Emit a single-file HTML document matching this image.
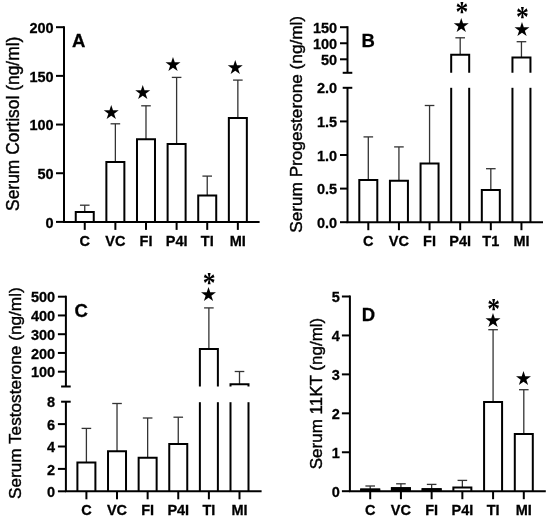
<!DOCTYPE html>
<html><head><meta charset="utf-8"><title>Serum hormone levels</title>
<style>html,body{margin:0;padding:0;background:#fff;}svg{display:block;}
.b{font-family:'Liberation Sans', Arial, Helvetica, sans-serif;font-weight:bold;stroke:#000;stroke-width:0.28px;}
.t{font-family:'Liberation Sans', Arial, Helvetica, sans-serif;stroke:#000;stroke-width:0.4px;}
</style>
</head><body>
<svg width="550" height="521" viewBox="0 0 550 521">
<rect width="550" height="521" fill="#fff"/>
<line x1="64.00" y1="26.20" x2="64.00" y2="221.90" stroke="#000" stroke-width="2.0"/>
<line x1="56.00" y1="27.20" x2="64.00" y2="27.20" stroke="#000" stroke-width="2.0"/>
<text class="b" x="53.60" y="32.89" font-size="14.5" text-anchor="end">200</text>
<line x1="56.00" y1="75.88" x2="64.00" y2="75.88" stroke="#000" stroke-width="2.0"/>
<text class="b" x="53.60" y="81.57" font-size="14.5" text-anchor="end">150</text>
<line x1="56.00" y1="124.55" x2="64.00" y2="124.55" stroke="#000" stroke-width="2.0"/>
<text class="b" x="53.60" y="130.24" font-size="14.5" text-anchor="end">100</text>
<line x1="56.00" y1="173.22" x2="64.00" y2="173.22" stroke="#000" stroke-width="2.0"/>
<text class="b" x="53.60" y="178.92" font-size="14.5" text-anchor="end">50</text>
<line x1="56.00" y1="221.90" x2="64.00" y2="221.90" stroke="#000" stroke-width="2.0"/>
<text class="b" x="53.60" y="227.59" font-size="14.5" text-anchor="end">0</text>
<line x1="63.00" y1="221.90" x2="259.60" y2="221.90" stroke="#000" stroke-width="2.0"/>
<line x1="84.75" y1="221.90" x2="84.75" y2="229.90" stroke="#000" stroke-width="2.0"/>
<text class="b" x="84.75" y="245.50" font-size="14.5" text-anchor="middle">C</text>
<line x1="115.37" y1="221.90" x2="115.37" y2="229.90" stroke="#000" stroke-width="2.0"/>
<text class="b" x="115.37" y="245.50" font-size="14.5" text-anchor="middle">VC</text>
<line x1="145.99" y1="221.90" x2="145.99" y2="229.90" stroke="#000" stroke-width="2.0"/>
<text class="b" x="145.99" y="245.50" font-size="14.5" text-anchor="middle">FI</text>
<line x1="176.61" y1="221.90" x2="176.61" y2="229.90" stroke="#000" stroke-width="2.0"/>
<text class="b" x="176.61" y="245.50" font-size="14.5" text-anchor="middle">P4I</text>
<line x1="207.23" y1="221.90" x2="207.23" y2="229.90" stroke="#000" stroke-width="2.0"/>
<text class="b" x="207.23" y="245.50" font-size="14.5" text-anchor="middle">TI</text>
<line x1="237.85" y1="221.90" x2="237.85" y2="229.90" stroke="#000" stroke-width="2.0"/>
<text class="b" x="237.85" y="245.50" font-size="14.5" text-anchor="middle">MI</text>
<line x1="84.75" y1="212.00" x2="84.75" y2="205.20" stroke="#333" stroke-width="1.3"/>
<line x1="79.95" y1="205.20" x2="89.55" y2="205.20" stroke="#333" stroke-width="1.3"/>
<polyline points="75.75,221.90 75.75,212.00 93.75,212.00 93.75,221.90" fill="none" stroke="#000" stroke-width="2.0" stroke-linejoin="miter"/>
<line x1="115.37" y1="162.00" x2="115.37" y2="123.80" stroke="#333" stroke-width="1.3"/>
<line x1="110.57" y1="123.80" x2="120.17" y2="123.80" stroke="#333" stroke-width="1.3"/>
<polyline points="106.37,221.90 106.37,162.00 124.37,162.00 124.37,221.90" fill="none" stroke="#000" stroke-width="2.0" stroke-linejoin="miter"/>
<line x1="145.99" y1="139.30" x2="145.99" y2="105.80" stroke="#333" stroke-width="1.3"/>
<line x1="141.19" y1="105.80" x2="150.79" y2="105.80" stroke="#333" stroke-width="1.3"/>
<polyline points="136.99,221.90 136.99,139.30 154.99,139.30 154.99,221.90" fill="none" stroke="#000" stroke-width="2.0" stroke-linejoin="miter"/>
<line x1="176.61" y1="144.00" x2="176.61" y2="77.40" stroke="#333" stroke-width="1.3"/>
<line x1="171.81" y1="77.40" x2="181.41" y2="77.40" stroke="#333" stroke-width="1.3"/>
<polyline points="167.61,221.90 167.61,144.00 185.61,144.00 185.61,221.90" fill="none" stroke="#000" stroke-width="2.0" stroke-linejoin="miter"/>
<line x1="207.23" y1="195.50" x2="207.23" y2="176.10" stroke="#333" stroke-width="1.3"/>
<line x1="202.43" y1="176.10" x2="212.03" y2="176.10" stroke="#333" stroke-width="1.3"/>
<polyline points="198.23,221.90 198.23,195.50 216.23,195.50 216.23,221.90" fill="none" stroke="#000" stroke-width="2.0" stroke-linejoin="miter"/>
<line x1="237.85" y1="118.10" x2="237.85" y2="80.10" stroke="#333" stroke-width="1.3"/>
<line x1="233.05" y1="80.10" x2="242.65" y2="80.10" stroke="#333" stroke-width="1.3"/>
<polyline points="228.85,221.90 228.85,118.10 246.85,118.10 246.85,221.90" fill="none" stroke="#000" stroke-width="2.0" stroke-linejoin="miter"/>
<text x="111.15" y="119.18" font-size="19.5" font-family="'DejaVu Sans', sans-serif" text-anchor="middle">&#9733;</text>
<text x="142.80" y="99.03" font-size="19.5" font-family="'DejaVu Sans', sans-serif" text-anchor="middle">&#9733;</text>
<text x="173.05" y="70.83" font-size="19.5" font-family="'DejaVu Sans', sans-serif" text-anchor="middle">&#9733;</text>
<text x="235.20" y="73.93" font-size="19.5" font-family="'DejaVu Sans', sans-serif" text-anchor="middle">&#9733;</text>
<text class="b" x="71.90" y="47.00" font-size="18.5">A</text>
<text class="t" transform="translate(18.90,123.80) rotate(-90)" font-size="17.45" text-anchor="middle">Serum Cortisol (ng/ml)</text>
<line x1="347.50" y1="26.20" x2="347.50" y2="72.80" stroke="#000" stroke-width="2.0"/>
<line x1="340.00" y1="27.20" x2="347.50" y2="27.20" stroke="#000" stroke-width="2.0"/>
<text class="b" x="337.20" y="32.89" font-size="14.5" text-anchor="end">150</text>
<line x1="340.00" y1="43.25" x2="347.50" y2="43.25" stroke="#000" stroke-width="2.0"/>
<text class="b" x="337.20" y="48.94" font-size="14.5" text-anchor="end">100</text>
<line x1="340.00" y1="59.30" x2="347.50" y2="59.30" stroke="#000" stroke-width="2.0"/>
<text class="b" x="337.20" y="64.99" font-size="14.5" text-anchor="end">50</text>
<line x1="342.70" y1="72.80" x2="352.30" y2="72.80" stroke="#000" stroke-width="2.0"/>
<line x1="342.70" y1="87.80" x2="352.30" y2="87.80" stroke="#000" stroke-width="2.0"/>
<line x1="347.50" y1="87.80" x2="347.50" y2="222.20" stroke="#000" stroke-width="2.0"/>
<line x1="340.00" y1="121.40" x2="347.50" y2="121.40" stroke="#000" stroke-width="2.0"/>
<text class="b" x="337.20" y="127.09" font-size="14.5" text-anchor="end">1.5</text>
<line x1="340.00" y1="155.00" x2="347.50" y2="155.00" stroke="#000" stroke-width="2.0"/>
<text class="b" x="337.20" y="160.69" font-size="14.5" text-anchor="end">1.0</text>
<line x1="340.00" y1="188.60" x2="347.50" y2="188.60" stroke="#000" stroke-width="2.0"/>
<text class="b" x="337.20" y="194.29" font-size="14.5" text-anchor="end">0.5</text>
<line x1="340.00" y1="222.20" x2="347.50" y2="222.20" stroke="#000" stroke-width="2.0"/>
<text class="b" x="337.20" y="227.89" font-size="14.5" text-anchor="end">0.0</text>
<text class="b" x="337.20" y="93.49" font-size="14.5" text-anchor="end">2.0</text>
<line x1="346.50" y1="222.20" x2="543.00" y2="222.20" stroke="#000" stroke-width="2.0"/>
<line x1="368.30" y1="222.20" x2="368.30" y2="230.20" stroke="#000" stroke-width="2.0"/>
<text class="b" x="368.30" y="245.80" font-size="14.5" text-anchor="middle">C</text>
<line x1="398.93" y1="222.20" x2="398.93" y2="230.20" stroke="#000" stroke-width="2.0"/>
<text class="b" x="398.93" y="245.80" font-size="14.5" text-anchor="middle">VC</text>
<line x1="429.56" y1="222.20" x2="429.56" y2="230.20" stroke="#000" stroke-width="2.0"/>
<text class="b" x="429.56" y="245.80" font-size="14.5" text-anchor="middle">FI</text>
<line x1="460.19" y1="222.20" x2="460.19" y2="230.20" stroke="#000" stroke-width="2.0"/>
<text class="b" x="460.19" y="245.80" font-size="14.5" text-anchor="middle">P4I</text>
<line x1="490.82" y1="222.20" x2="490.82" y2="230.20" stroke="#000" stroke-width="2.0"/>
<text class="b" x="490.82" y="245.80" font-size="14.5" text-anchor="middle">T1</text>
<line x1="521.45" y1="222.20" x2="521.45" y2="230.20" stroke="#000" stroke-width="2.0"/>
<text class="b" x="521.45" y="245.80" font-size="14.5" text-anchor="middle">MI</text>
<line x1="368.30" y1="180.00" x2="368.30" y2="136.90" stroke="#333" stroke-width="1.3"/>
<line x1="363.50" y1="136.90" x2="373.10" y2="136.90" stroke="#333" stroke-width="1.3"/>
<polyline points="359.30,222.20 359.30,180.00 377.30,180.00 377.30,222.20" fill="none" stroke="#000" stroke-width="2.0" stroke-linejoin="miter"/>
<line x1="398.93" y1="180.80" x2="398.93" y2="146.90" stroke="#333" stroke-width="1.3"/>
<line x1="394.13" y1="146.90" x2="403.73" y2="146.90" stroke="#333" stroke-width="1.3"/>
<polyline points="389.93,222.20 389.93,180.80 407.93,180.80 407.93,222.20" fill="none" stroke="#000" stroke-width="2.0" stroke-linejoin="miter"/>
<line x1="429.56" y1="163.60" x2="429.56" y2="105.50" stroke="#333" stroke-width="1.3"/>
<line x1="424.76" y1="105.50" x2="434.36" y2="105.50" stroke="#333" stroke-width="1.3"/>
<polyline points="420.56,222.20 420.56,163.60 438.56,163.60 438.56,222.20" fill="none" stroke="#000" stroke-width="2.0" stroke-linejoin="miter"/>
<line x1="490.82" y1="189.90" x2="490.82" y2="168.70" stroke="#333" stroke-width="1.3"/>
<line x1="486.02" y1="168.70" x2="495.62" y2="168.70" stroke="#333" stroke-width="1.3"/>
<polyline points="481.82,222.20 481.82,189.90 499.82,189.90 499.82,222.20" fill="none" stroke="#000" stroke-width="2.0" stroke-linejoin="miter"/>
<line x1="460.19" y1="54.70" x2="460.19" y2="37.80" stroke="#333" stroke-width="1.3"/>
<line x1="455.39" y1="37.80" x2="464.99" y2="37.80" stroke="#333" stroke-width="1.3"/>
<polyline points="451.19,72.80 451.19,54.70 469.19,54.70 469.19,72.80" fill="none" stroke="#000" stroke-width="2.0" stroke-linejoin="miter"/>
<line x1="451.19" y1="87.80" x2="451.19" y2="222.20" stroke="#000" stroke-width="2.0"/>
<line x1="469.19" y1="87.80" x2="469.19" y2="222.20" stroke="#000" stroke-width="2.0"/>
<line x1="521.45" y1="57.60" x2="521.45" y2="41.70" stroke="#333" stroke-width="1.3"/>
<line x1="516.65" y1="41.70" x2="526.25" y2="41.70" stroke="#333" stroke-width="1.3"/>
<polyline points="512.45,72.80 512.45,57.60 530.45,57.60 530.45,72.80" fill="none" stroke="#000" stroke-width="2.0" stroke-linejoin="miter"/>
<line x1="512.45" y1="87.80" x2="512.45" y2="222.20" stroke="#000" stroke-width="2.0"/>
<line x1="530.45" y1="87.80" x2="530.45" y2="222.20" stroke="#000" stroke-width="2.0"/>
<text x="461.30" y="31.83" font-size="19.5" font-family="'DejaVu Sans', sans-serif" text-anchor="middle">&#9733;</text>
<text transform="translate(462.00,21.20) scale(0.95,1.12)" font-size="27" font-family="'Liberation Serif', 'Times New Roman', serif" font-weight="bold" text-anchor="middle">*</text>
<text x="522.10" y="35.53" font-size="19.5" font-family="'DejaVu Sans', sans-serif" text-anchor="middle">&#9733;</text>
<text transform="translate(522.50,26.00) scale(0.95,1.12)" font-size="27" font-family="'Liberation Serif', 'Times New Roman', serif" font-weight="bold" text-anchor="middle">*</text>
<text class="b" x="361.50" y="47.00" font-size="18.5">B</text>
<text class="t" transform="translate(302.20,124.35) rotate(-90)" font-size="17.2" text-anchor="middle">Serum Progesterone (ng/ml)</text>
<line x1="65.90" y1="295.70" x2="65.90" y2="386.50" stroke="#000" stroke-width="2.0"/>
<line x1="57.90" y1="296.70" x2="65.90" y2="296.70" stroke="#000" stroke-width="2.0"/>
<text class="b" x="55.20" y="302.39" font-size="14.5" text-anchor="end">500</text>
<line x1="57.90" y1="315.45" x2="65.90" y2="315.45" stroke="#000" stroke-width="2.0"/>
<text class="b" x="55.20" y="321.14" font-size="14.5" text-anchor="end">400</text>
<line x1="57.90" y1="334.20" x2="65.90" y2="334.20" stroke="#000" stroke-width="2.0"/>
<text class="b" x="55.20" y="339.89" font-size="14.5" text-anchor="end">300</text>
<line x1="57.90" y1="352.95" x2="65.90" y2="352.95" stroke="#000" stroke-width="2.0"/>
<text class="b" x="55.20" y="358.64" font-size="14.5" text-anchor="end">200</text>
<line x1="57.90" y1="371.70" x2="65.90" y2="371.70" stroke="#000" stroke-width="2.0"/>
<text class="b" x="55.20" y="377.39" font-size="14.5" text-anchor="end">100</text>
<line x1="61.10" y1="386.50" x2="70.70" y2="386.50" stroke="#000" stroke-width="2.0"/>
<line x1="61.10" y1="401.70" x2="70.70" y2="401.70" stroke="#000" stroke-width="2.0"/>
<line x1="65.90" y1="401.70" x2="65.90" y2="491.30" stroke="#000" stroke-width="2.0"/>
<line x1="57.90" y1="424.10" x2="65.90" y2="424.10" stroke="#000" stroke-width="2.0"/>
<text class="b" x="55.20" y="429.79" font-size="14.5" text-anchor="end">6</text>
<line x1="57.90" y1="446.50" x2="65.90" y2="446.50" stroke="#000" stroke-width="2.0"/>
<text class="b" x="55.20" y="452.19" font-size="14.5" text-anchor="end">4</text>
<line x1="57.90" y1="468.90" x2="65.90" y2="468.90" stroke="#000" stroke-width="2.0"/>
<text class="b" x="55.20" y="474.59" font-size="14.5" text-anchor="end">2</text>
<line x1="57.90" y1="491.30" x2="65.90" y2="491.30" stroke="#000" stroke-width="2.0"/>
<text class="b" x="55.20" y="496.99" font-size="14.5" text-anchor="end">0</text>
<text class="b" x="55.20" y="407.39" font-size="14.5" text-anchor="end">8</text>
<line x1="64.90" y1="491.30" x2="261.60" y2="491.30" stroke="#000" stroke-width="2.0"/>
<line x1="86.40" y1="491.30" x2="86.40" y2="499.30" stroke="#000" stroke-width="2.0"/>
<text class="b" x="86.40" y="514.90" font-size="14.5" text-anchor="middle">C</text>
<line x1="117.02" y1="491.30" x2="117.02" y2="499.30" stroke="#000" stroke-width="2.0"/>
<text class="b" x="117.02" y="514.90" font-size="14.5" text-anchor="middle">VC</text>
<line x1="147.64" y1="491.30" x2="147.64" y2="499.30" stroke="#000" stroke-width="2.0"/>
<text class="b" x="147.64" y="514.90" font-size="14.5" text-anchor="middle">FI</text>
<line x1="178.26" y1="491.30" x2="178.26" y2="499.30" stroke="#000" stroke-width="2.0"/>
<text class="b" x="178.26" y="514.90" font-size="14.5" text-anchor="middle">P4I</text>
<line x1="208.88" y1="491.30" x2="208.88" y2="499.30" stroke="#000" stroke-width="2.0"/>
<text class="b" x="208.88" y="514.90" font-size="14.5" text-anchor="middle">TI</text>
<line x1="239.50" y1="491.30" x2="239.50" y2="499.30" stroke="#000" stroke-width="2.0"/>
<text class="b" x="239.50" y="514.90" font-size="14.5" text-anchor="middle">MI</text>
<line x1="86.40" y1="462.40" x2="86.40" y2="428.40" stroke="#333" stroke-width="1.3"/>
<line x1="81.60" y1="428.40" x2="91.20" y2="428.40" stroke="#333" stroke-width="1.3"/>
<polyline points="77.40,491.30 77.40,462.40 95.40,462.40 95.40,491.30" fill="none" stroke="#000" stroke-width="2.0" stroke-linejoin="miter"/>
<line x1="117.02" y1="451.30" x2="117.02" y2="403.50" stroke="#333" stroke-width="1.3"/>
<line x1="112.22" y1="403.50" x2="121.82" y2="403.50" stroke="#333" stroke-width="1.3"/>
<polyline points="108.02,491.30 108.02,451.30 126.02,451.30 126.02,491.30" fill="none" stroke="#000" stroke-width="2.0" stroke-linejoin="miter"/>
<line x1="147.64" y1="457.70" x2="147.64" y2="418.00" stroke="#333" stroke-width="1.3"/>
<line x1="142.84" y1="418.00" x2="152.44" y2="418.00" stroke="#333" stroke-width="1.3"/>
<polyline points="138.64,491.30 138.64,457.70 156.64,457.70 156.64,491.30" fill="none" stroke="#000" stroke-width="2.0" stroke-linejoin="miter"/>
<line x1="178.26" y1="443.90" x2="178.26" y2="417.20" stroke="#333" stroke-width="1.3"/>
<line x1="173.46" y1="417.20" x2="183.06" y2="417.20" stroke="#333" stroke-width="1.3"/>
<polyline points="169.26,491.30 169.26,443.90 187.26,443.90 187.26,491.30" fill="none" stroke="#000" stroke-width="2.0" stroke-linejoin="miter"/>
<line x1="208.88" y1="349.00" x2="208.88" y2="307.90" stroke="#333" stroke-width="1.3"/>
<line x1="204.08" y1="307.90" x2="213.68" y2="307.90" stroke="#333" stroke-width="1.3"/>
<polyline points="199.88,386.50 199.88,349.00 217.88,349.00 217.88,386.50" fill="none" stroke="#000" stroke-width="2.0" stroke-linejoin="miter"/>
<line x1="199.88" y1="402.20" x2="199.88" y2="491.30" stroke="#000" stroke-width="2.0"/>
<line x1="217.88" y1="402.20" x2="217.88" y2="491.30" stroke="#000" stroke-width="2.0"/>
<line x1="239.50" y1="384.30" x2="239.50" y2="371.50" stroke="#333" stroke-width="1.3"/>
<line x1="234.70" y1="371.50" x2="244.30" y2="371.50" stroke="#333" stroke-width="1.3"/>
<polyline points="230.50,386.50 230.50,384.30 248.50,384.30 248.50,386.50" fill="none" stroke="#000" stroke-width="2.0" stroke-linejoin="miter"/>
<line x1="230.50" y1="402.20" x2="230.50" y2="491.30" stroke="#000" stroke-width="2.0"/>
<line x1="248.50" y1="402.20" x2="248.50" y2="491.30" stroke="#000" stroke-width="2.0"/>
<text x="208.50" y="301.43" font-size="19.5" font-family="'DejaVu Sans', sans-serif" text-anchor="middle">&#9733;</text>
<text transform="translate(209.10,292.00) scale(0.95,1.12)" font-size="27" font-family="'Liberation Serif', 'Times New Roman', serif" font-weight="bold" text-anchor="middle">*</text>
<text class="b" x="74.40" y="316.70" font-size="18.5">C</text>
<text class="t" transform="translate(20.70,393.20) rotate(-90)" font-size="17.2" text-anchor="middle">Serum Testosterone (ng/ml)</text>
<line x1="349.90" y1="295.50" x2="349.90" y2="491.20" stroke="#000" stroke-width="2.0"/>
<line x1="341.90" y1="296.50" x2="349.90" y2="296.50" stroke="#000" stroke-width="2.0"/>
<text class="b" x="339.80" y="302.19" font-size="14.5" text-anchor="end">5</text>
<line x1="341.90" y1="335.44" x2="349.90" y2="335.44" stroke="#000" stroke-width="2.0"/>
<text class="b" x="339.80" y="341.13" font-size="14.5" text-anchor="end">4</text>
<line x1="341.90" y1="374.38" x2="349.90" y2="374.38" stroke="#000" stroke-width="2.0"/>
<text class="b" x="339.80" y="380.07" font-size="14.5" text-anchor="end">3</text>
<line x1="341.90" y1="413.32" x2="349.90" y2="413.32" stroke="#000" stroke-width="2.0"/>
<text class="b" x="339.80" y="419.01" font-size="14.5" text-anchor="end">2</text>
<line x1="341.90" y1="452.26" x2="349.90" y2="452.26" stroke="#000" stroke-width="2.0"/>
<text class="b" x="339.80" y="457.95" font-size="14.5" text-anchor="end">1</text>
<line x1="341.90" y1="491.20" x2="349.90" y2="491.20" stroke="#000" stroke-width="2.0"/>
<text class="b" x="339.80" y="496.89" font-size="14.5" text-anchor="end">0</text>
<line x1="348.90" y1="491.20" x2="545.80" y2="491.20" stroke="#000" stroke-width="2.0"/>
<line x1="370.20" y1="491.20" x2="370.20" y2="499.20" stroke="#000" stroke-width="2.0"/>
<text class="b" x="370.20" y="514.70" font-size="14.5" text-anchor="middle">C</text>
<line x1="400.92" y1="491.20" x2="400.92" y2="499.20" stroke="#000" stroke-width="2.0"/>
<text class="b" x="400.92" y="514.70" font-size="14.5" text-anchor="middle">VC</text>
<line x1="431.64" y1="491.20" x2="431.64" y2="499.20" stroke="#000" stroke-width="2.0"/>
<text class="b" x="431.64" y="514.70" font-size="14.5" text-anchor="middle">FI</text>
<line x1="462.36" y1="491.20" x2="462.36" y2="499.20" stroke="#000" stroke-width="2.0"/>
<text class="b" x="462.36" y="514.70" font-size="14.5" text-anchor="middle">P4I</text>
<line x1="493.08" y1="491.20" x2="493.08" y2="499.20" stroke="#000" stroke-width="2.0"/>
<text class="b" x="493.08" y="514.70" font-size="14.5" text-anchor="middle">TI</text>
<line x1="523.80" y1="491.20" x2="523.80" y2="499.20" stroke="#000" stroke-width="2.0"/>
<text class="b" x="523.80" y="514.70" font-size="14.5" text-anchor="middle">MI</text>
<line x1="370.20" y1="489.60" x2="370.20" y2="486.00" stroke="#333" stroke-width="1.3"/>
<line x1="365.40" y1="486.00" x2="375.00" y2="486.00" stroke="#333" stroke-width="1.3"/>
<polyline points="361.20,491.20 361.20,489.60 379.20,489.60 379.20,491.20" fill="none" stroke="#000" stroke-width="2.0" stroke-linejoin="miter"/>
<rect x="360.20" y="488.60" width="20" height="2.60" fill="#000"/>
<line x1="400.92" y1="488.20" x2="400.92" y2="483.80" stroke="#333" stroke-width="1.3"/>
<line x1="396.12" y1="483.80" x2="405.72" y2="483.80" stroke="#333" stroke-width="1.3"/>
<polyline points="391.92,491.20 391.92,488.20 409.92,488.20 409.92,491.20" fill="none" stroke="#000" stroke-width="2.0" stroke-linejoin="miter"/>
<rect x="390.92" y="487.20" width="20" height="4.00" fill="#000"/>
<line x1="431.64" y1="489.20" x2="431.64" y2="484.40" stroke="#333" stroke-width="1.3"/>
<line x1="426.84" y1="484.40" x2="436.44" y2="484.40" stroke="#333" stroke-width="1.3"/>
<polyline points="422.64,491.20 422.64,489.20 440.64,489.20 440.64,491.20" fill="none" stroke="#000" stroke-width="2.0" stroke-linejoin="miter"/>
<rect x="421.64" y="488.20" width="20" height="3.00" fill="#000"/>
<line x1="462.36" y1="487.60" x2="462.36" y2="480.40" stroke="#333" stroke-width="1.3"/>
<line x1="457.56" y1="480.40" x2="467.16" y2="480.40" stroke="#333" stroke-width="1.3"/>
<polyline points="453.36,491.20 453.36,487.60 471.36,487.60 471.36,491.20" fill="none" stroke="#000" stroke-width="2.0" stroke-linejoin="miter"/>
<line x1="493.08" y1="401.90" x2="493.08" y2="329.70" stroke="#333" stroke-width="1.3"/>
<line x1="488.28" y1="329.70" x2="497.88" y2="329.70" stroke="#333" stroke-width="1.3"/>
<polyline points="484.08,491.20 484.08,401.90 502.08,401.90 502.08,491.20" fill="none" stroke="#000" stroke-width="2.0" stroke-linejoin="miter"/>
<line x1="523.80" y1="433.90" x2="523.80" y2="389.70" stroke="#333" stroke-width="1.3"/>
<line x1="519.00" y1="389.70" x2="528.60" y2="389.70" stroke="#333" stroke-width="1.3"/>
<polyline points="514.80,491.20 514.80,433.90 532.80,433.90 532.80,491.20" fill="none" stroke="#000" stroke-width="2.0" stroke-linejoin="miter"/>
<text x="493.05" y="327.18" font-size="19.5" font-family="'DejaVu Sans', sans-serif" text-anchor="middle">&#9733;</text>
<text transform="translate(493.70,317.50) scale(0.95,1.12)" font-size="27" font-family="'Liberation Serif', 'Times New Roman', serif" font-weight="bold" text-anchor="middle">*</text>
<text x="523.60" y="385.33" font-size="19.5" font-family="'DejaVu Sans', sans-serif" text-anchor="middle">&#9733;</text>
<text class="b" x="361.70" y="320.60" font-size="18.5">D</text>
<text class="t" transform="translate(322.00,393.50) rotate(-90)" font-size="17.0" text-anchor="middle">Serum 11KT (ng/ml)</text>
</svg>
</body></html>
